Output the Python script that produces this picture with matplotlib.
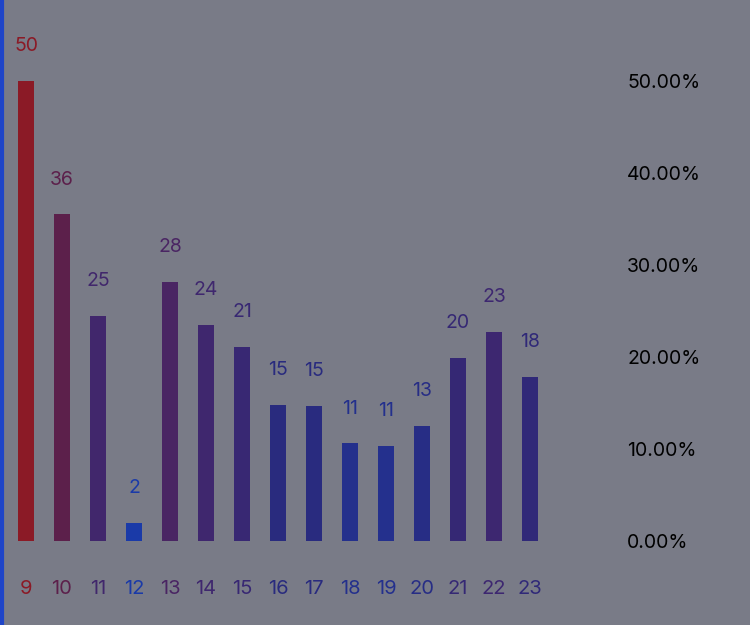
import matplotlib

matplotlib.use("Agg")

import matplotlib.pyplot as plt
from matplotlib.colors import LinearSegmentedColormap, Normalize
from matplotlib.ticker import FuncFormatter

hours = ["9", "10", "11", "12", "13", "14", "15", "16", "17", "18", "19", "20", "21", "22", "23"]
values = [50.0, 35.5, 24.5, 2.0, 28.2, 23.5, 21.1, 14.8, 14.7, 10.6, 10.3, 12.5, 19.9, 22.7, 17.8]
labels = ["50", "36", "25", "2", "28", "24", "21", "15", "15", "11", "11", "13", "20", "23", "18"]
y_ticks = [0, 10, 20, 30, 40, 50]

cmap = LinearSegmentedColormap.from_list(
    "heat",
    [(0.0, "#1a3aa8"), (0.28, "#2a2a7c"), (0.5, "#45266a"), (0.72, "#5e1f48"), (1.0, "#8b1a26")],
)
norm = Normalize(vmin=min(values), vmax=max(values))
colors = [cmap(norm(v)) for v in values]

plt.rcParams["font.family"] = ["Inter", "DejaVu Sans"]
fig = plt.figure(figsize=(7.5, 6.25), dpi=100)
fig.patch.set_facecolor("#797b87")
ax = fig.add_axes([8 / 750, 84 / 625, 540 / 750, 541 / 625])
ax.set_facecolor("#797b87")

x = list(range(len(hours)))
ax.bar(x, values, width=0.42, color=colors)
for xi, v, lab, c in zip(x, values, labels, colors):
    ax.text(xi, v + 2.8, lab, ha="center", va="bottom", fontsize=14, color=c)

ax.set_xlim(-0.5, len(hours) - 0.5)
ax.set_ylim(0, 58.8)
ax.set_xticks(x)
ax.set_xticklabels(hours, fontsize=14.5)
for lbl, c in zip(ax.get_xticklabels(), colors):
    lbl.set_color(c)
ax.tick_params(axis="x", length=0, pad=28)

ax.yaxis.tick_right()
ax.set_yticks(y_ticks)
ax.yaxis.set_major_formatter(FuncFormatter(lambda v, _: f"{v:.2f}%"))
ax.tick_params(axis="y", length=0, pad=57, labelsize=14, labelcolor="black")
for lbl in ax.get_yticklabels():
    lbl.set_horizontalalignment("left")
for s in ax.spines.values():
    s.set_visible(False)

fig.add_artist(plt.Line2D([0.002, 0.002], [0, 1], transform=fig.transFigure,
                          color="#1f45c8", linewidth=3))
fig.savefig("out.png", dpi=100, facecolor=fig.get_facecolor())
